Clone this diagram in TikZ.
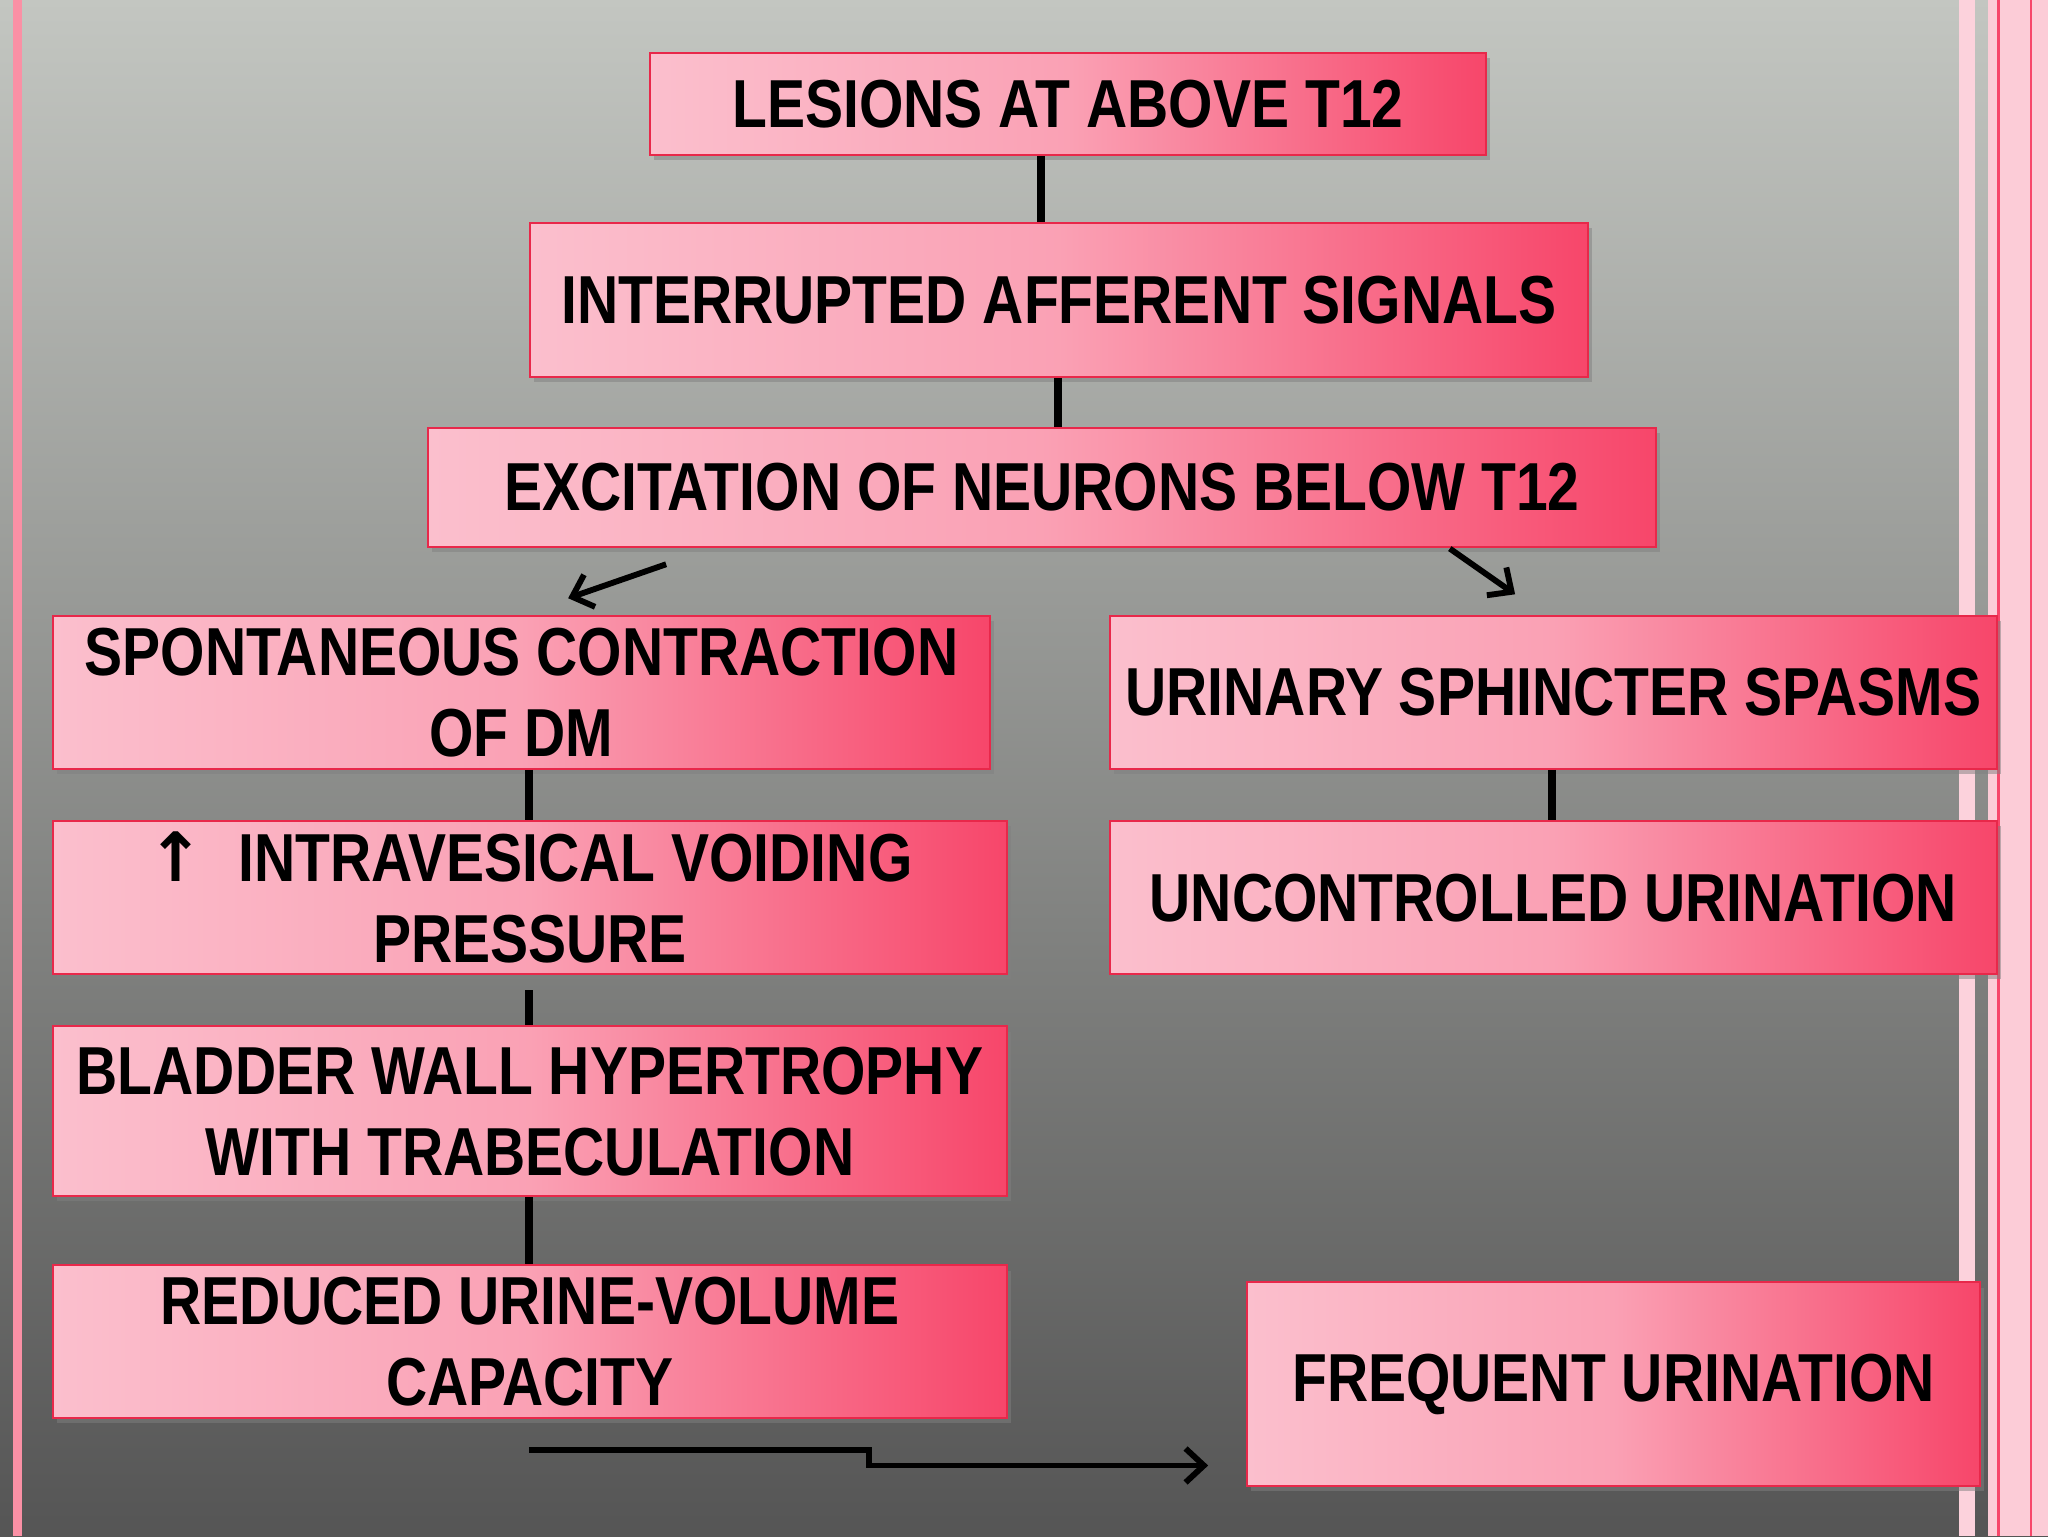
\documentclass[tikz,border=0pt]{standalone}
\usepackage{fontspec}
\setmainfont{Liberation Sans}[FakeStretch=0.84]
\newfontfamily\arrfont{DejaVu Sans}
\usetikzlibrary{shadows,arrows.meta}
\definecolor{pinkL}{HTML}{FBBFCD}
\definecolor{pinkR}{HTML}{F7466A}
\definecolor{bord}{HTML}{E8284A}
\definecolor{bgtop}{HTML}{C3C6C1}
\definecolor{bgbot}{HTML}{555555}
\tikzset{
  box/.style={draw=bord,line width=1.5pt,left color=pinkL,right color=pinkR,middle color=pinkL!75!pinkR,
    drop shadow={shadow xshift=3pt,shadow yshift=-4pt,opacity=.5},
    font=\fontsize{52}{62}\selectfont\bfseries,align=center,inner sep=0pt,anchor=north west},
  conn/.style={line width=6pt,black},
  arr/.style={line width=4.5pt,black,-{Straight Barb[length=14pt,width=26pt]}}
}
\begin{document}
\begin{tikzpicture}[x=1pt,y=-1pt]
\useasboundingbox (0,0) rectangle (1568,1176);
\shade[top color=bgtop, bottom color=bgbot] (0,0) rectangle (1568,1176);
\fill[pinkR!60!white] (10,0) rectangle (17,1176);
\fill[pinkL!70!white] (1500,0) rectangle (1512,1176);
\fill[pinkL!80!white] (1522,0) rectangle (1568,1176);
\draw[pinkR,line width=2pt] (1530,0) -- (1530,1176);
\draw[pinkR,line width=1.5pt] (1555,0) -- (1555,1176);
\node[box,minimum width=640,minimum height=78] (a) at (497,40) {LESIONS AT ABOVE T12};
\node[box,minimum width=810,minimum height=118] (b) at (405,170) {INTERRUPTED AFFERENT SIGNALS};
\node[box,minimum width=940,minimum height=91] (c) at (327,327) {EXCITATION OF NEURONS BELOW T12};
\node[box,minimum width=717,minimum height=117] (d) at (40,471) {SPONTANEOUS CONTRACTION\\OF DM};
\node[box,minimum width=679,minimum height=117] (e) at (849,471) {URINARY SPHINCTER SPASMS};
\node[box,minimum width=730,minimum height=117] (f) at (40,628) {{\arrfont ↑}\enspace INTRAVESICAL VOIDING\\PRESSURE};
\node[box,minimum width=679,minimum height=117] (g) at (849,628) {UNCONTROLLED URINATION};
\node[box,minimum width=730,minimum height=130] (h) at (40,785) {BLADDER WALL HYPERTROPHY\\WITH TRABECULATION};
\node[box,minimum width=730,minimum height=117] (i) at (40,968) {REDUCED URINE-VOLUME\\CAPACITY};
\node[box,minimum width=561,minimum height=156] (j) at (954,981) {FREQUENT URINATION};
\draw[conn] (a.south -| 797,0) -- (b.north -| 797,0);
\draw[conn] (b.south -| 810,0) -- (c.north -| 810,0);
\coordinate (c1) at (510,432); \coordinate (d1) at (435,458);
\coordinate (c2) at (1110,420); \coordinate (e1) at (1160,455);
\draw[arr] (c1) -- (d1);
\draw[arr] (c2) -- (e1);
\draw[conn] (d.south -| 405,0) -- (f.north -| 405,0);
\coordinate (f1) at (405,758);
\draw[conn] (f1) -- (h.north -| 405,0);
\draw[conn] (h.south -| 405,0) -- (i.north -| 405,0);
\draw[conn] (e.south -| 1188,0) -- (g.north -| 1188,0);
\coordinate (i1) at (405,1110); \coordinate (j1) at (925,1122);
\draw[arr] (i1) -- (665,1110) -- (665,1122) -- (j1);
\end{tikzpicture}
\end{document}
